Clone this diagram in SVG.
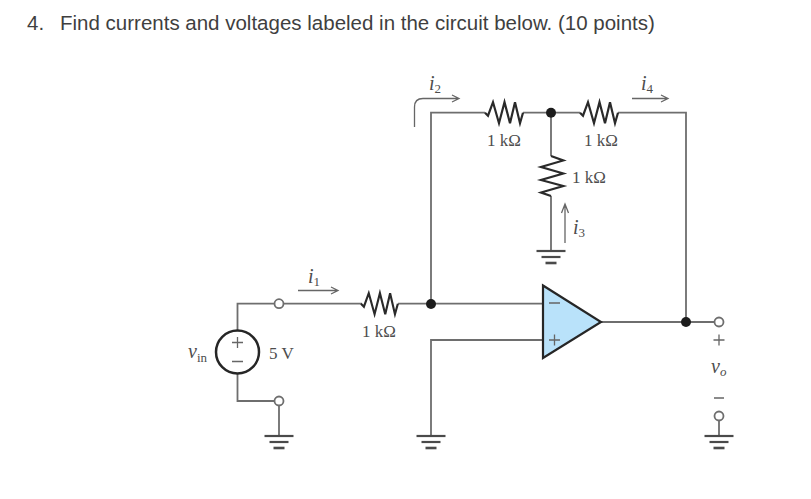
<svg xmlns="http://www.w3.org/2000/svg" width="811" height="499" viewBox="0 0 811 499">
<defs>
<style>
.w{fill:none;stroke:#6e6e6e;stroke-width:1.8}
.r{fill:none;stroke:#2a2a2a;stroke-width:2.2;stroke-linejoin:miter}
.a{fill:none;stroke:#666;stroke-width:1.3}
.t{font-family:"Liberation Serif",serif;font-size:17px;fill:#4d4d4d}
.i{font-family:"Liberation Serif",serif;font-size:20px;font-style:italic;fill:#4d4d4d}
.s{font-size:13px;font-style:normal}
.dot{fill:#1c1c1c}
.o{fill:#fff;stroke:#6e6e6e;stroke-width:1.8}
.g{stroke:#4a4a4a;fill:none}
.h{font-family:"Liberation Sans",Arial,sans-serif;font-size:20.500px;fill:#3f3f3f}
</style>
<g id="gnd"><path class="g" stroke-width="2.2" d="M-14.500 0H14.500"/><path class="g" stroke-width="2.200" d="M-9.500 6H9.500"/><path class="g" stroke-width="2.600" d="M-5.500 12H5.500"/></g>
<path id="rh" d="M0 0L3 3L8 -10.500L14 10.500L19.500 -10.500L25 10.500L30 -10.500L35 10.500L38 0"/>
</defs>
<rect width="811" height="499" fill="#fff"/>
<text id="title" class="h" y="30"><tspan x="27">4.</tspan><tspan x="60">Find currents and voltages labeled in the circuit below. (10 points)</tspan></text>
<g id="connectors">
<path class="w" d="M237.500 330V303.700H275M283.500 303.700H362M398 303.700H543"/>
<path class="w" d="M237.500 374V401H275M279 405.500V436"/>
<path class="w" d="M431 304V112.700H485M523 112.700H580M618 112.700H686V322"/>
<path class="w" d="M551 112.700V156M551 196V251"/>
<path class="w" d="M543 340H431V436"/>
<path class="w" d="M601 322H714.500M719 420.500V436"/>
<path class="a" d="M414.500 127V107C414.500 101 417 98.500 423 98.500H458M452 95L459 98.500L452 102"/>
<path class="a" d="M632 98.500H667M661 95L668 98.500L661 102"/>
<path class="a" d="M565 243V205M561.500 213L565 204L568.500 213"/>
<path class="a" d="M298 290.500H337M331 287L338 290.500L331 294"/>
</g>
<g id="r1"><use href="#rh" class="r" transform="translate(485 112.700)"/><text class="t" x="487" y="146">1 kΩ</text></g>
<g id="r2"><use href="#rh" class="r" transform="translate(580 112.700)"/><text class="t" x="584" y="146">1 kΩ</text></g>
<g id="r3"><path class="r" d="M551 156L563.300 160.500L541 167L563.300 173.500L541 180L563.300 186L541 192.500L551 196"/><text class="t" x="572" y="183">1 kΩ</text></g>
<g id="r4"><use href="#rh" class="r" transform="translate(361 303.700) scale(.97 1)"/><text class="t" x="362" y="337">1 kΩ</text></g>
<g id="junctions">
<circle class="dot" cx="551" cy="112.700" r="5"/>
<circle class="dot" cx="431" cy="304" r="5"/>
<circle class="dot" cx="686" cy="322" r="5"/>
</g>
<g id="source">
<circle cx="237.500" cy="352" r="21.500" fill="#fff" stroke="#262626" stroke-width="2.500"/>
<path class="a" d="M232 342.500H243M237.500 337V348M232 361.500H243"/>
<text class="i" x="188" y="358">v<tspan class="s" dy="4">in</tspan></text>
<text class="t" x="269" y="359">5 V</text>
</g>
<g id="terminal-in"><circle class="o" cx="279" cy="303.700" r="4.500"/></g>
<g id="terminal-gnd"><circle class="o" cx="279" cy="401" r="4.500"/></g>
<g id="opamp">
<path d="M543 285.500L601 322L543 358Z" fill="#b9e2fa" stroke="#262626" stroke-width="2.200"/>
<path class="a" d="M549 303H560M549 340H560M554.500 334.500V345.500"/>
</g>
<g id="output">
<circle class="o" cx="719" cy="322" r="4.500"/>
<circle class="o" cx="719" cy="416" r="4.500"/>
<path class="a" d="M713.500 340H724.500M719 334.500V345.500M714 398H724"/>
<text class="i" x="711" y="373">v<tspan class="s" dy="3" style="font-style:italic">o</tspan></text>
</g>
<g id="grounds">
<use href="#gnd" x="551" y="251"/>
<use href="#gnd" x="279" y="436"/>
<use href="#gnd" x="431" y="436"/>
<use href="#gnd" x="719" y="436"/>
</g>
<g id="labels">
<text class="i" x="429" y="90">i<tspan class="s" dy="3">2</tspan></text>
<text class="i" x="641" y="90">i<tspan class="s" dy="3">4</tspan></text>
<text class="i" x="573" y="234">i<tspan class="s" dy="3">3</tspan></text>
<text class="i" x="308" y="283">i<tspan class="s" dy="3">1</tspan></text>
</g>
</svg>
